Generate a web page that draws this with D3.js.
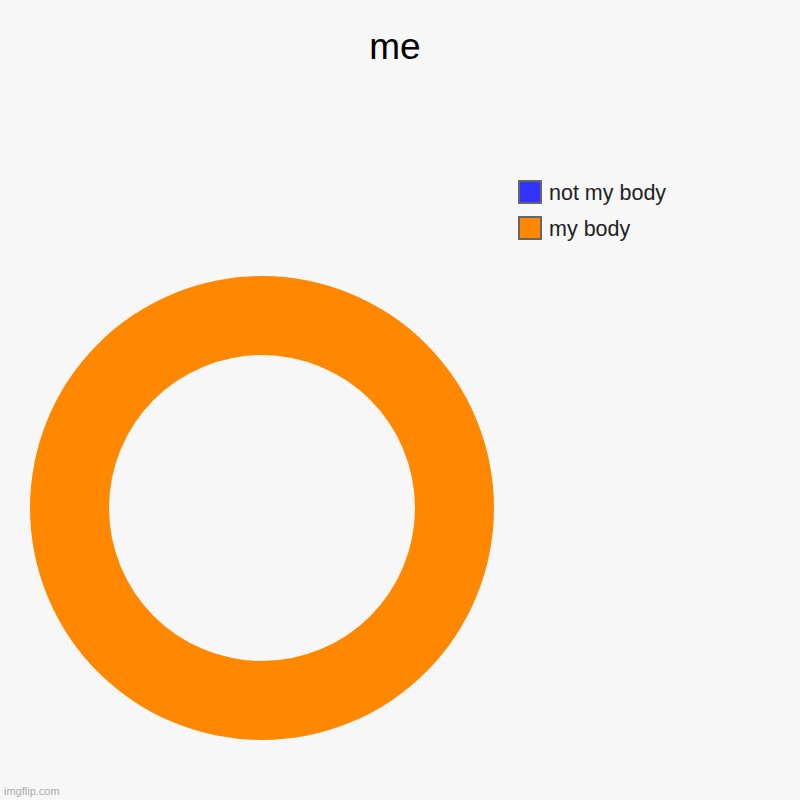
<!DOCTYPE html>
<html><head><meta charset="utf-8">
<script src="https://cdn.jsdelivr.net/npm/d3@7"></script>
<style>body{margin:0;background:#f7f7f7;}svg{display:block;font-family:"Liberation Sans",Arial,sans-serif;}</style>
</head><body>
<svg id="c" width="800" height="800"></svg>
<script>
const categories = ["my body", "not my body"];
const values = [100, 0];
const colors = ["#ff8800", "#3333ff"];
const title = "me";

const svg = d3.select("#c");
svg.append("rect").attr("width",800).attr("height",800).attr("fill","#f7f7f7");
svg.append("text").attr("x",395).attr("y",59).attr("text-anchor","middle")
  .attr("font-size",37).attr("fill","#000").text(title);

const data = categories.map((c,i)=>({name:c, value:values[i], color:colors[i]}));
const pie = d3.pie().value(d=>d.value).sort(null);
const arc = d3.arc().innerRadius(153).outerRadius(232);
const g = svg.append("g").attr("transform","translate(262,508)");
g.selectAll("path").data(pie(data)).join("path")
  .attr("d",arc).attr("fill",d=>d.data.color);

const legendData = data.slice().reverse();
const lg = svg.append("g").attr("transform","translate(519,181)");
const item = lg.selectAll("g").data(legendData).join("g")
  .attr("transform",(d,i)=>`translate(0,${i*36})`);
item.append("rect").attr("x",0).attr("y",0).attr("width",22).attr("height",22)
  .attr("fill",d=>d.color).attr("stroke","#666").attr("stroke-width",2);
item.append("text").attr("x",30).attr("y",19).attr("font-size",21.5).attr("fill","#222").text(d=>d.name);

svg.append("text").attr("x",4).attr("y",795).attr("font-size",11).attr("fill","#aaa").text("imgflip.com");
</script>
</body></html>
